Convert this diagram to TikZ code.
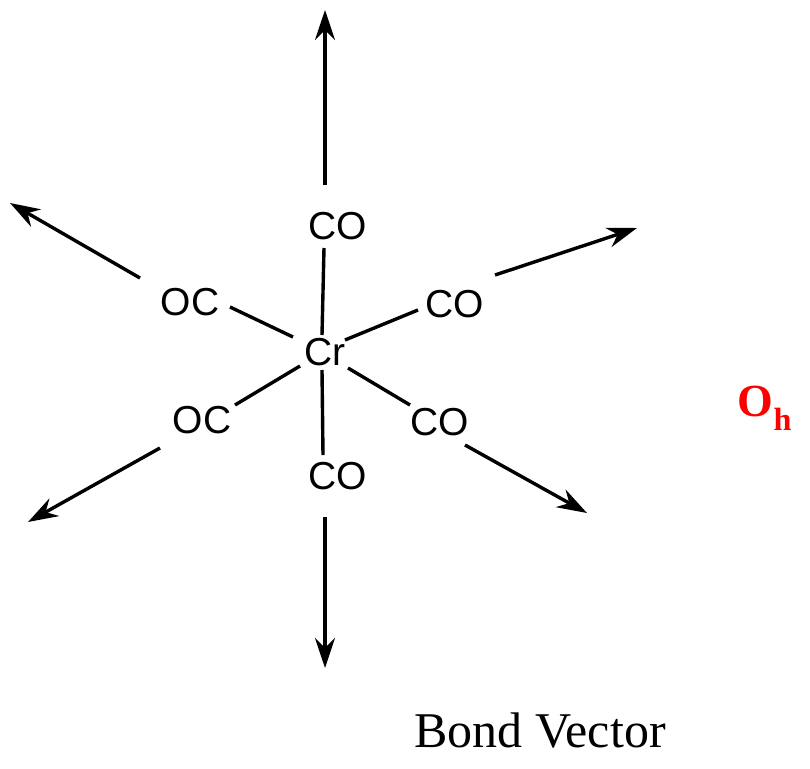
\documentclass[tikz,border=0pt]{standalone}
\usepackage{fontspec}
\setmainfont{Liberation Serif}
\newfontfamily\arial{Liberation Sans}
\usetikzlibrary{arrows.meta}
\begin{document}
\begin{tikzpicture}[x=1pt,y=-1pt,
  lab/.style={font=\arial\fontsize{39}{39}\selectfont,inner sep=0pt},
  bond/.style={line width=3.4pt},
  vec/.style={line width=3.4pt,-{Stealth[length=30pt,width=20pt]}}]
\useasboundingbox (0,0) rectangle (810,768);
\node[lab] (cr) at (325,352) {Cr};
\node[lab] (t) at (338,226) {CO};
\node[lab] (ur) at (455,304) {CO};
\node[lab] (ul) at (190,302) {OC};
\node[lab] (ll) at (202,420) {OC};
\node[lab] (lr) at (440,422) {CO};
\node[lab] (b) at (338,476) {CO};
\coordinate (c1) at (322,335); \coordinate (d1) at (324,248);
\coordinate (c2) at (293,337); \coordinate (d2) at (230,307);
\coordinate (c3) at (345,340); \coordinate (d3) at (418,310);
\coordinate (c4) at (300,366); \coordinate (d4) at (235,405);
\coordinate (c5) at (348,368); \coordinate (d5) at (410,405);
\coordinate (c6) at (322,370); \coordinate (d6) at (323,455);
\foreach \i in {1,...,6}{\draw[bond] (c\i) -- (d\i);}
\coordinate (s1) at (325,185); \coordinate (e1) at (325,10);
\coordinate (s2) at (140,278); \coordinate (e2) at (10,203);
\coordinate (s3) at (495,275); \coordinate (e3) at (637,228);
\coordinate (s4) at (160,448); \coordinate (e4) at (28,522);
\coordinate (s5) at (465,445); \coordinate (e5) at (587,513);
\coordinate (s6) at (325,517); \coordinate (e6) at (325,668);
\foreach \i in {1,...,6}{\draw[vec] (s\i) -- (e\i);}
\node[text=red,font=\bfseries\fontsize{46}{46}\selectfont,inner sep=0pt] (oh) at (765,408) {O\textsubscript{h}};
\node[font=\fontsize{50}{50}\selectfont,inner sep=0pt] (bv) at (540,731) {Bond Vector};
\end{tikzpicture}
\end{document}
